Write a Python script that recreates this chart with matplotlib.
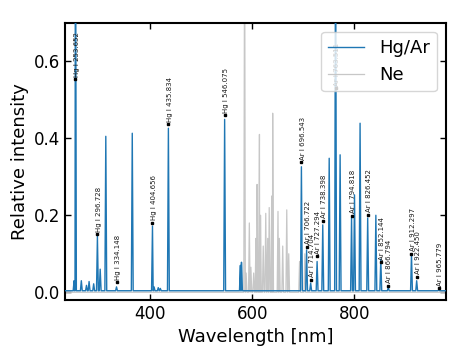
import matplotlib
matplotlib.use('Agg')
import matplotlib.pyplot as plt

# ---- data ----
x_range = [234.0, 980.0]
y_range = [-0.02, 0.70]

# Hg/Ar arc spectrum: peak centres [nm] and peak heights
hgar_peak_wave = [251.0, 253.652, 265.2, 275.3, 280.4, 289.4, 296.728, 302.15, 313.16,
                  334.148, 365.02, 404.656, 407.78, 416.0, 420.0, 435.834, 546.075,
                  576.96, 579.07, 696.543, 706.722, 714.704, 727.294, 738.398,
                  751.0, 763.511, 772.4, 794.818, 800.616, 811.531, 826.452,
                  842.465, 852.144, 866.794, 912.297, 922.450, 965.779]
hgar_peak_height = [0.03, 1.20, 0.030, 0.018, 0.028, 0.022, 0.145, 0.060, 0.405,
                    0.014, 0.413, 0.172, 0.014, 0.012, 0.010, 0.426, 0.449,
                    0.070, 0.078, 0.326, 0.110, 0.024, 0.080, 0.175,
                    0.348, 1.00, 0.357, 0.193, 0.253, 0.439, 0.193,
                    0.200, 0.086, 0.012, 0.098, 0.030, 0.006]
hgar_baseline = 0.004

# Ne arc spectrum
ne_peak_wave = [585.249, 588.19, 594.483, 597.553, 603.0, 607.434, 609.616, 614.306,
                616.359, 621.728, 626.649, 630.479, 633.443, 638.299, 640.225,
                650.653, 653.288, 659.895, 667.828, 671.704, 692.947, 703.241]
ne_peak_height = [1.00, 0.05, 0.18, 0.065, 0.05, 0.14, 0.28, 0.41,
                  0.20, 0.12, 0.205, 0.14, 0.22, 0.25, 0.465,
                  0.21, 0.14, 0.12, 0.214, 0.10, 0.08, 0.10]
ne_baseline = 0.0

# identified-line labels
label_ion = ['Hg I'] * 6 + ['Ar I'] * 13
label_wave = [253.652, 296.728, 334.148, 404.656, 435.834, 546.075,
              696.543, 706.722, 714.704, 727.294, 738.398, 763.511, 794.818,
              826.452, 852.144, 866.794, 912.297, 922.450, 965.779]
label_y = [0.553, 0.151, 0.026, 0.181, 0.436, 0.460,
           0.338, 0.118, 0.033, 0.093, 0.186, 0.530, 0.199,
           0.201, 0.078, 0.017, 0.100, 0.040, 0.011]


def spectrum_vertices(waves, heights, base, half_width, lo, hi):
    pts = [(lo, base), (hi, base)]
    for c, h in zip(waves, heights):
        pts += [(c - half_width, base), (c, h), (c + half_width, base)]
    pts.sort(key=lambda p: p[0])
    return [p[0] for p in pts], [p[1] for p in pts]


hx, hy = spectrum_vertices(hgar_peak_wave, hgar_peak_height, hgar_baseline, 1.8,
                           x_range[0], x_range[1])
nx, ny = spectrum_vertices(ne_peak_wave, ne_peak_height, ne_baseline, 1.6,
                           x_range[0], x_range[1])

fig = plt.figure(figsize=(4.74, 3.55), dpi=100)
ax = fig.add_axes([0.138, 0.155, 0.803, 0.781])

ax.plot(hx, hy, color='#1f77b4', lw=1.0, label='Hg/Ar', zorder=3)
ax.plot(nx, ny, color='0.78', lw=0.9, label='Ne', zorder=2)

ax.plot(label_wave, label_y, 's', color='k', ms=1.6, zorder=4)
for ion, w, y in zip(label_ion, label_wave, label_y):
    ax.annotate(f'{ion} {w:.3f}', (w, y), xytext=(0.8, 1.8),
                textcoords='offset points', rotation=90, ha='center',
                va='bottom', fontsize=5, color='0.1', zorder=4)

ax.set_xlim(*x_range)
ax.set_ylim(*y_range)
ax.set_xticks([400, 600, 800])
ax.set_yticks([0.0, 0.2, 0.4, 0.6])
ax.set_xlabel('Wavelength [nm]', fontsize=13)
ax.set_ylabel('Relative intensity', fontsize=13)
ax.tick_params(direction='in', top=True, right=True, length=4, width=1,
               labelsize=12)
for s in ax.spines.values():
    s.set_linewidth(1.5)

ax.legend(loc='upper right', fontsize=13)

fig.savefig('out.png', dpi=100)
